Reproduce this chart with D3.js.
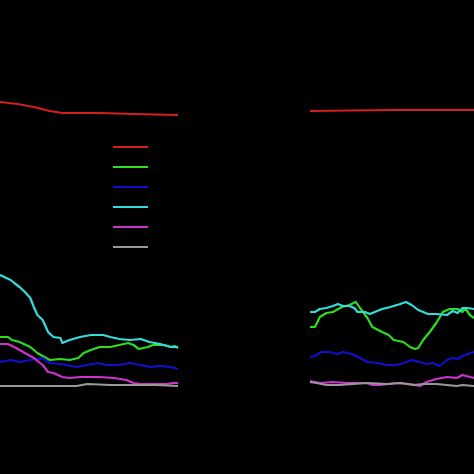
<!DOCTYPE html>
<html>
<head>
<meta charset="utf-8">
<script src="https://cdn.jsdelivr.net/npm/d3@7"></script>
<style>
  html, body { margin: 0; padding: 0; background: #000; overflow: hidden; }
  svg { display: block; }
</style>
</head>
<body>
<div id="chart"></div>
<script>
// series as [t, value] pairs, t in % of the panel's time span
const seriesNames = ['s1', 's2', 's3', 's4', 's5', 's6'];
const seriesColors = ['#d21f1f', '#2ddd1e', '#1010cc', '#33dddd', '#cc33cc', '#999999'];

const leftRed = [[0,31.8],[10,31.6],[19,31.3],[28,30.9],[35,30.7],[56,30.7],[75,30.6],[100,30.5]];
const leftGreen = [[0,8.3],[4.5,8.3],[6.7,8.0],[11,7.8],[17,7.3],[21,6.7],[24,6.4],[28,6.0],[34,6.1],[39,6.0],[44,6.2],[47,6.7],[51,7.0],[56,7.3],[62,7.3],[67,7.5],[72,7.7],[75,7.5],[78,7.1],[83,7.3],[86,7.5],[92,7.5],[96,7.3],[98,7.4],[100,7.2]];
const leftBlue = [[0,5.8],[6,6.0],[11,5.8],[17,6.0],[24,6.2],[28,5.7],[34,5.6],[43,5.3],[49,5.5],[55,5.7],[60,5.5],[67,5.5],[73,5.7],[79,5.5],[84,5.3],[90,5.4],[96,5.3],[100,5.1]];
const leftCyan = [[0,14.5],[6,14.0],[8,13.7],[11,13.3],[14,12.8],[17,12.2],[19,11.3],[21,10.5],[24,10.0],[27,8.8],[30,8.3],[34,8.2],[35,7.7],[39,8.0],[45,8.3],[51,8.5],[58,8.5],[62,8.3],[67,8.1],[73,8.0],[79,8.1],[84,7.8],[90,7.6],[96,7.3],[100,7.3]];
const leftMagenta = [[0,7.6],[4.5,7.6],[8,7.3],[14,6.7],[19,6.2],[24,5.5],[27,4.8],[30,4.7],[35,4.3],[39,4.2],[45,4.3],[51,4.3],[56,4.3],[64,4.2],[71,4.0],[75,3.7],[79,3.6],[88,3.6],[94,3.6],[97,3.7],[100,3.7]];
const leftGray = [[0,3.4],[43,3.4],[49,3.6],[62,3.5],[75,3.5],[88,3.5],[100,3.4]];

const rightRed = [[0,30.9],[50,31.0],[100,31.0]];
const rightGreen = [[0,9.3],[3,9.3],[6,10.3],[10,10.7],[14,10.8],[19.5,11.3],[24,11.5],[28,11.8],[30.5,11.2],[35,10.2],[38,9.3],[44,8.8],[48,8.5],[51,8.0],[57,7.8],[61,7.3],[64,7.1],[66,7.2],[69,8.0],[73,8.8],[77,9.7],[81,10.8],[85,11.1],[90,11.1],[93,10.8],[94.5,11.2],[97.5,10.5],[100,10.2]];
const rightBlue = [[0,6.3],[3,6.4],[7,6.8],[12,6.8],[16.5,6.6],[20,6.8],[25.5,6.6],[30.5,6.2],[35,5.8],[41,5.7],[47,5.5],[53,5.5],[57,5.7],[62,6.0],[67,5.8],[71,5.6],[75,5.7],[79,5.4],[83.5,6.0],[87,6.2],[90,6.1],[93,6.4],[97.5,6.7],[100,6.8]];
const rightCyan = [[0,10.8],[3,10.8],[6,11.1],[10,11.2],[14,11.4],[17,11.6],[20,11.4],[24,11.4],[27,11.2],[29,10.8],[33.5,10.8],[36.5,10.6],[39.5,10.8],[44,11.1],[49,11.3],[55,11.6],[58.5,11.8],[62,11.5],[66,11.0],[69,10.8],[72,10.6],[77,10.6],[83.5,10.5],[87,10.9],[90,10.7],[93,11.2],[96,11.2],[100,11.1]];
const rightMagenta = [[0,3.9],[6,3.7],[14,3.8],[22.5,3.7],[35,3.7],[38,3.5],[43,3.5],[53,3.7],[61,3.6],[67,3.4],[71,3.8],[77,4.1],[83.5,4.3],[89.5,4.2],[93,4.5],[97.5,4.3],[100,4.2]];
const rightGray = [[0,3.8],[4,3.7],[10,3.5],[18,3.5],[26,3.6],[35,3.7],[47,3.6],[55,3.7],[63,3.5],[69,3.6],[77,3.6],[83.5,3.5],[89.5,3.4],[93,3.5],[100,3.4]];

const leftSeries = [leftRed, leftGreen, leftBlue, leftCyan, leftMagenta, leftGray];
const rightSeries = [rightRed, rightGreen, rightBlue, rightCyan, rightMagenta, rightGray];

const W = 474, H = 474;

const svg = d3.select('#chart').append('svg')
    .attr('width', W)
    .attr('height', H)
    .style('background', '#000');

const y = d3.scaleLinear().domain([0, 34]).range([420, 80]);

const panels = [
    { data: leftSeries, x: d3.scaleLinear().domain([0, 100]).range([0, 178]) },
    { data: rightSeries, x: d3.scaleLinear().domain([0, 100]).range([310, 474]) }
];

panels.forEach(p => {
    const g = svg.append('g');

    const line = d3.line()
        .x(d => p.x(d[0]))
        .y(d => y(d[1]));

    p.data.forEach((s, i) => {
        g.append('path')
            .datum(s)
            .attr('fill', 'none')
            .attr('stroke', seriesColors[i])
            .attr('stroke-width', 2.2)
            .attr('stroke-linejoin', 'round')
            .attr('d', line);
    });
});

// legend (labels are not visible in the reference, only the swatches)
const legend = svg.append('g').attr('transform', 'translate(113,147)');
seriesNames.forEach((name, i) => {
    legend.append('line')
        .attr('x1', 0).attr('x2', 35)
        .attr('y1', i * 20).attr('y2', i * 20)
        .attr('stroke', seriesColors[i])
        .attr('stroke-width', 2.2);
});
</script>
</body>
</html>
